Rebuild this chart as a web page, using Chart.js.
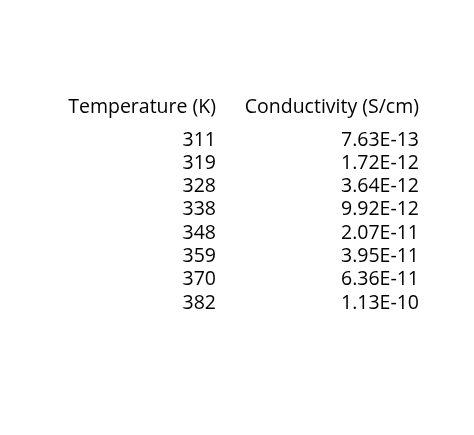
<!DOCTYPE html>
<html><head><meta charset="utf-8">
<script src="https://cdn.jsdelivr.net/npm/chart.js@4"></script>
<style>html,body{margin:0;padding:0;background:#fff}#w{width:474px;height:435px}</style>
</head><body><div id="w"><canvas id="c"></canvas></div>
<script>
const headers = ["Temperature (K)", "Conductivity (S/cm)"];
const temperatures = [311, 319, 328, 338, 348, 359, 370, 382];
const conductivity = ["7.63E-13", "1.72E-12", "3.64E-12", "9.92E-12", "2.07E-11", "3.95E-11", "6.36E-11", "1.13E-10"];

const tablePlugin = {
  id: 'tablePlugin',
  afterDraw(chart) {
    const {ctx, scales: {x, y}} = chart;
    ctx.save();
    ctx.fillStyle = '#000';
    ctx.font = '19.5px "Open Sans", "Liberation Sans", sans-serif';
    ctx.textAlign = 'right';
    ctx.textBaseline = 'middle';
    const c1 = x.getPixelForValue(216), c2 = x.getPixelForValue(419);
    const hy = y.getPixelForValue(-1.4);
    ctx.fillText(headers[0], c1, hy);
    ctx.fillText(headers[1], c2, hy);
    temperatures.forEach((t, i) => {
      const py = y.getPixelForValue(i);
      ctx.fillText(String(t), c1, py);
      ctx.fillText(conductivity[i], c2, py);
    });
    ctx.restore();
  }
};

new Chart(document.getElementById('c'), {
  type: 'scatter',
  data: { datasets: [{ data: temperatures.map((t, i) => ({x: 0, y: i})), pointRadius: 0 }] },
  options: {
    responsive: true, maintainAspectRatio: false, animation: false,
    layout: { padding: { top: 140, bottom: 132, left: 0, right: 0 } },
    plugins: { legend: { display: false }, tooltip: { enabled: false } },
    scales: {
      x: { type: 'linear', min: 0, max: 474, display: false },
      y: { type: 'linear', min: 0, max: 7, reverse: true, display: false }
    }
  },
  plugins: [tablePlugin]
});
</script></body></html>
